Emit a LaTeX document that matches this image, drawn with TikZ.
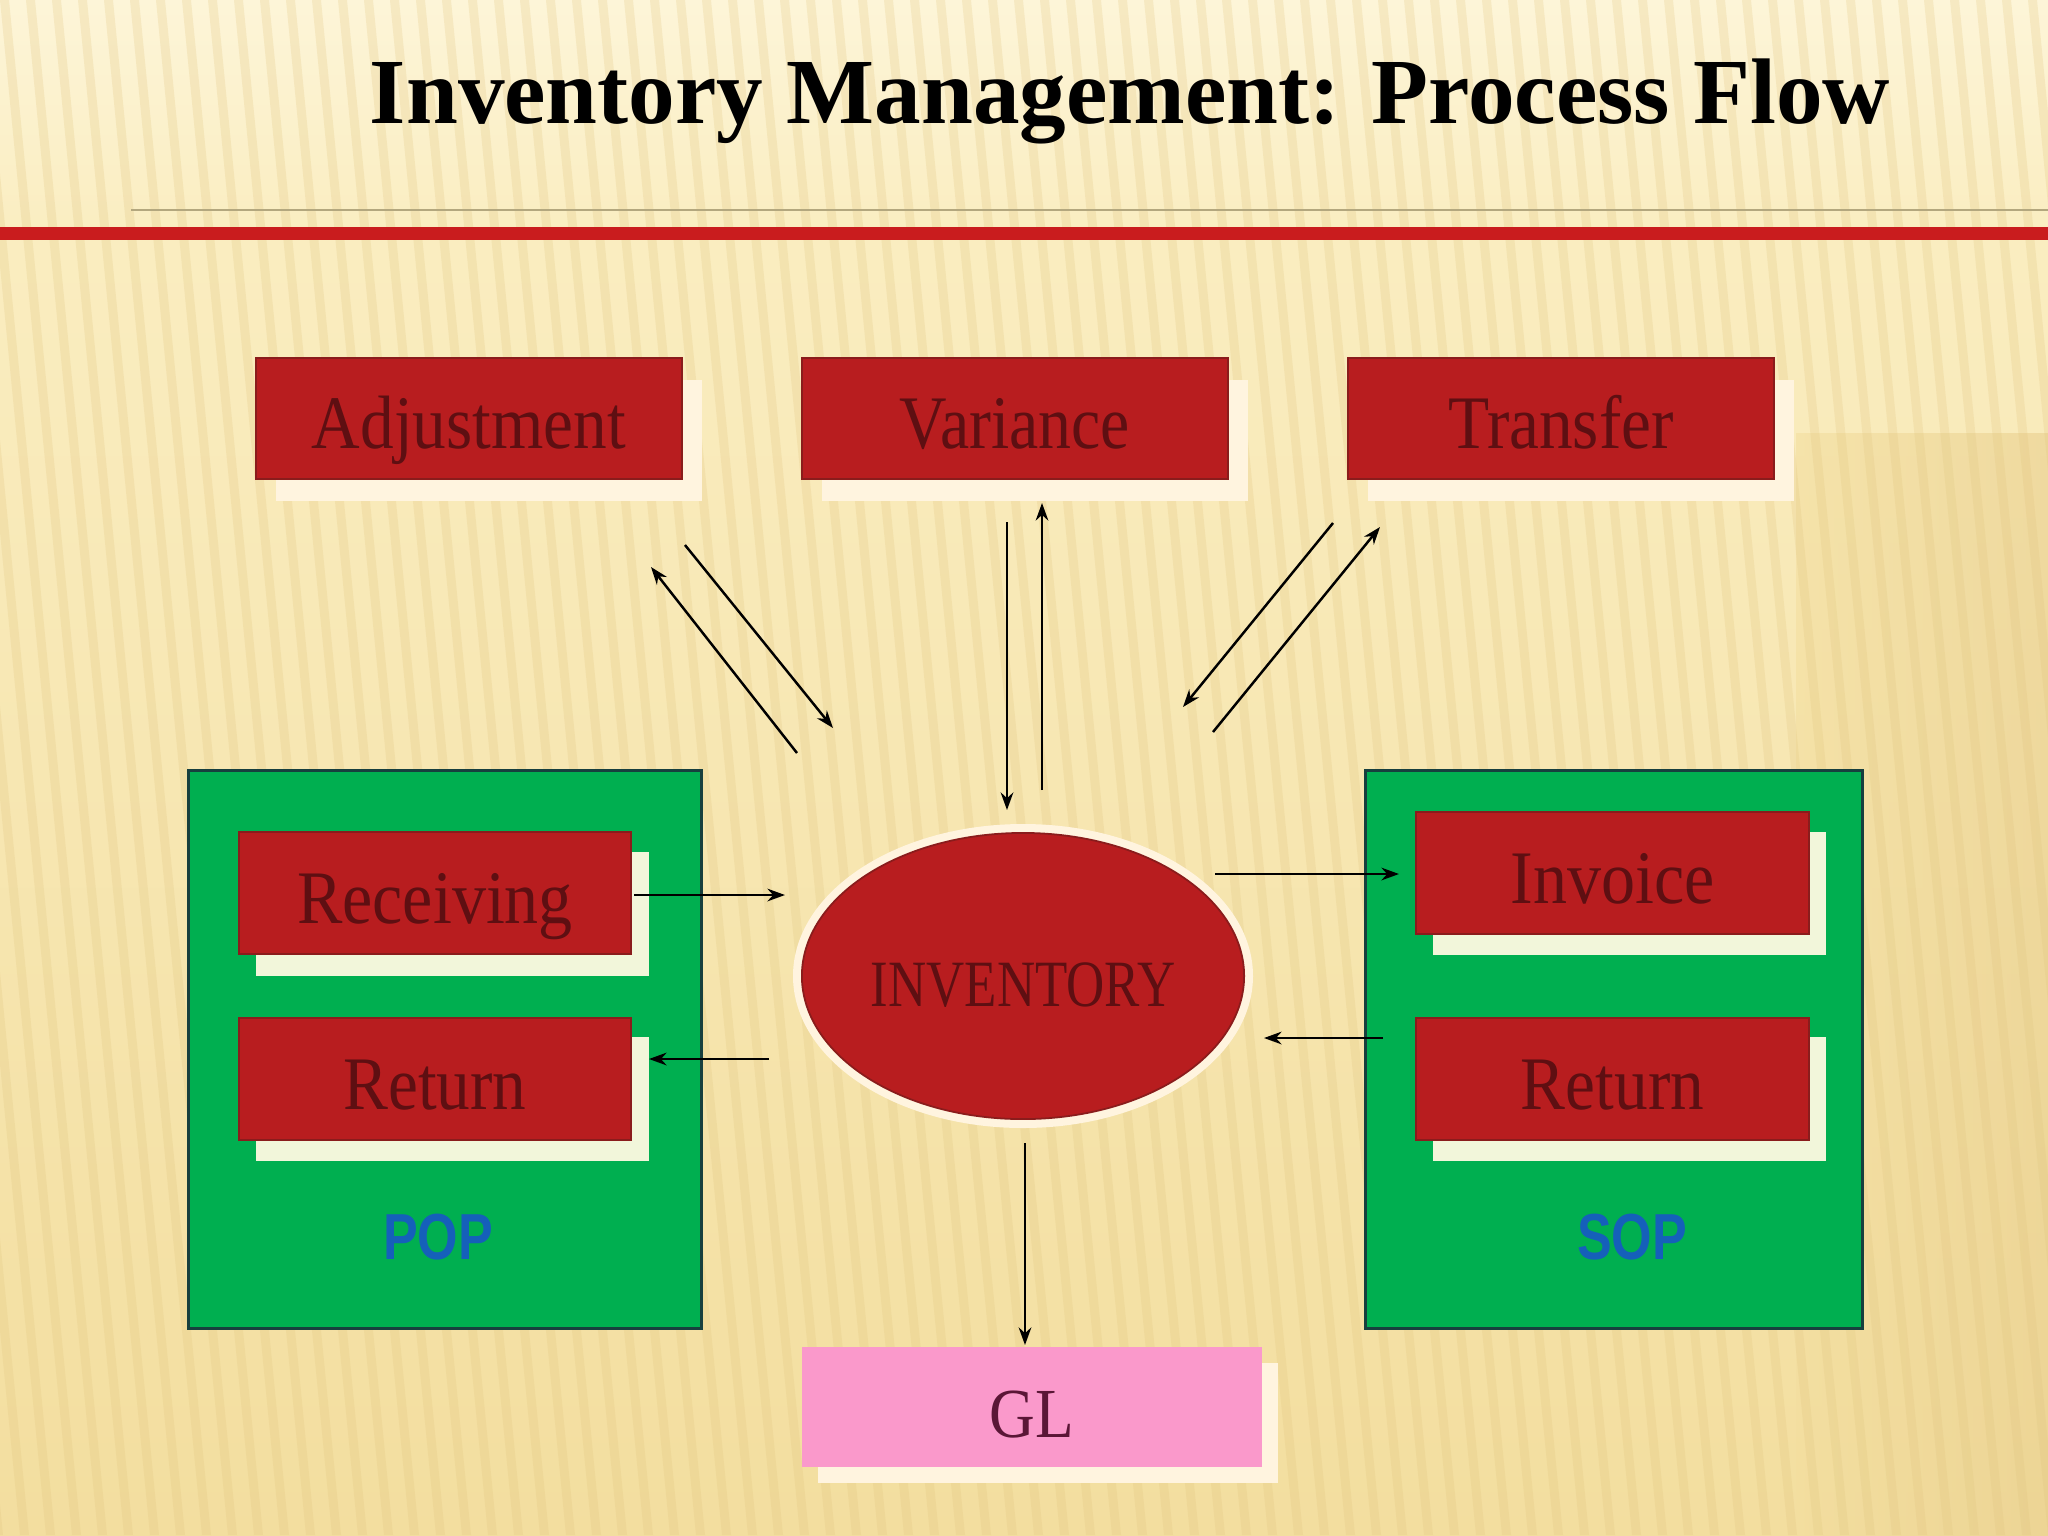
\documentclass[tikz,border=0pt]{standalone}
\usepackage{graphicx}
\usepackage{fontspec}
\setmainfont{Liberation Serif}
\newfontfamily\arialf{Liberation Sans}
\usetikzlibrary{arrows.meta,shapes.geometric,calc}
\definecolor{bgtop}{HTML}{FDF5D8}
\definecolor{bgmid}{HTML}{FAEDC0}
\definecolor{bgbot}{HTML}{F3DE9F}
\definecolor{bgdark}{HTML}{E9CF8E}
\definecolor{stripec}{HTML}{E0C47E}
\definecolor{boxred}{HTML}{B81D1F}
\definecolor{boxedge}{HTML}{8A1C1C}
\definecolor{txtred}{HTML}{5E0F12}
\definecolor{greenf}{HTML}{00AF50}
\definecolor{greenedge}{HTML}{173F3E}
\definecolor{bluet}{HTML}{1560BA}
\definecolor{pinkf}{HTML}{FA99CB}
\definecolor{gltxt}{HTML}{5A1636}
\definecolor{redline}{HTML}{C91C1E}
\definecolor{greyline}{HTML}{B3A77E}
\definecolor{topshad}{HTML}{FFF4DF}
\definecolor{inshad}{HTML}{F2F6DA}
\begin{document}
\begin{tikzpicture}[x=0.01cm,y=-0.01cm,
  redbox/.style={fill=boxred, draw=boxedge, line width=0.5pt, inner sep=0pt, outer sep=0pt,
    text=txtred, font=\fontsize{21.5pt}{21.5pt}\selectfont, text height=0.6cm, text depth=0pt},
  greenbox/.style={fill=greenf, draw=greenedge, line width=0.9pt, inner sep=0pt, outer sep=0pt},
  glbox/.style={fill=pinkf, inner sep=0pt, outer sep=0pt, text=gltxt,
    font=\fontsize{20pt}{20pt}\selectfont, text height=0.6cm, text depth=0pt},
  invnode/.style={ellipse, fill=boxred, draw=boxedge, line width=0.5pt, inner sep=0pt, outer sep=0pt,
    text=txtred, font=\fontsize{18.8pt}{18.8pt}\selectfont, text height=0.6cm, text depth=0pt},
  grouplabel/.style={text=bluet, font=\arialf\bfseries\fontsize{18.5pt}{18.5pt}\selectfont, inner sep=0pt, anchor=base},
  arr/.style={draw=black, line width=0.7pt, -{Stealth[length=5pt,width=3.6pt]}},
  topshadow/.style={fill=topshad},
  innershadow/.style={fill=inshad}
]
\useasboundingbox (0,0) rectangle (2048,1535);
% background
\fill[bgmid] (0,0) rectangle (2048,1535);
\shade[top color=bgtop, bottom color=bgmid] (0,0) rectangle (2048,240);
\shade[top color=bgmid, bottom color=bgbot] (0,240) rectangle (2048,1535);
\shade[left color=bgbot, right color=bgdark, opacity=0.6] (1796,433) rectangle (2048,1535);
\foreach \i in {-8,...,80} {
  \fill[stripec, opacity=0.24] (\i*26,0) -- ++(9,0) -- ++(150,1535) -- ++(-9,0) -- cycle;
}
% title and rules
\node[anchor=base, inner sep=0pt, font=\bfseries\fontsize{26.5pt}{26.5pt}\selectfont] (title) at (1130,123) {Inventory Management: Process Flow};
\draw[greyline, line width=0.6pt] (131,210) -- (2048,210);
\fill[redline] (0,227) rectangle (2048,240);
% top boxes
\fill[topshadow] (276,380) rectangle (702,501);
\fill[topshadow] (822,380) rectangle (1248,501);
\fill[topshadow] (1368,380) rectangle (1794,501);
\node[redbox, minimum width=4.26cm, minimum height=1.21cm] (adj) at (469,418.5) {\scalebox{0.89}[1]{Adjustment}};
\node[redbox, minimum width=4.26cm, minimum height=1.21cm] (var) at (1015,418.5) {\scalebox{0.87}[1]{Variance}};
\node[redbox, minimum width=4.26cm, minimum height=1.21cm] (trf) at (1561,418.5) {\scalebox{0.89}[1]{Transfer}};
% green groups
\node[greenbox, minimum width=5.12cm, minimum height=5.57cm] (pop) at (445,1049.5) {};
\node[greenbox, minimum width=4.96cm, minimum height=5.57cm] (sop) at (1614,1049.5) {};
\fill[innershadow] (256,852) rectangle (649,976);
\fill[innershadow] (256,1037) rectangle (649,1161);
\fill[innershadow] (1433,832) rectangle (1826,955);
\fill[innershadow] (1433,1037) rectangle (1826,1161);
\node[redbox, minimum width=3.92cm, minimum height=1.22cm] (rec) at (435,893) {\scalebox{0.9}[1]{Receiving}};
\node[redbox, minimum width=3.92cm, minimum height=1.22cm] (retp) at (435,1079) {\scalebox{0.89}[1]{Return}};
\node[redbox, minimum width=3.93cm, minimum height=1.22cm] (inv1) at (1612.5,873) {\scalebox{0.9}[1]{Invoice}};
\node[redbox, minimum width=3.93cm, minimum height=1.22cm] (rets) at (1612.5,1079) {\scalebox{0.89}[1]{Return}};
\node[grouplabel] (poplbl) at (438,1259) {\scalebox{0.8}[1]{POP}};
\node[grouplabel] (soplbl) at (1632,1259) {\scalebox{0.8}[1]{SOP}};
% inventory
\fill[topshad] (1023,976) ellipse [x radius=230, y radius=152];
\node[invnode, minimum width=4.42cm, minimum height=2.86cm] (inv) at (1023,976) {\scalebox{0.8}[1]{INVENTORY}};
% GL
\fill[topshad] (818,1363) rectangle (1278,1483);
\node[glbox, minimum width=4.60cm, minimum height=1.20cm] (gl) at (1032,1407) {\scalebox{0.9}[1]{GL}};
% arrow end points
\coordinate (a1s) at (685,545);   \coordinate (a1e) at (833,728);
\coordinate (a2s) at (797,753);   \coordinate (a2e) at (651,567);
\coordinate (v1s) at (1007,522);  \coordinate (v1e) at (1007,810);
\coordinate (v2s) at (1042,790);  \coordinate (v2e) at (1042,503);
\coordinate (t1s) at (1333,523);  \coordinate (t1e) at (1183,707);
\coordinate (t2s) at (1213,732);  \coordinate (t2e) at (1380,527);
\coordinate (r1s) at (634,895);   \coordinate (r1e) at (785,895);
\coordinate (r2s) at (769,1059);  \coordinate (r2e) at (649,1059);
\coordinate (i1s) at (1215,874);  \coordinate (i1e) at (1399,874);
\coordinate (i2s) at (1383,1038); \coordinate (i2e) at (1264,1038);
\coordinate (g1s) at (1025,1143); \coordinate (g1e) at (1025,1345);
% connectors
\draw[arr] (a1s) -- (a1e);
\draw[arr] (a2s) -- (a2e);
\draw[arr] (v1s) -- (v1e);
\draw[arr] (v2s) -- (v2e);
\draw[arr] (t1s) -- (t1e);
\draw[arr] (t2s) -- (t2e);
\draw[arr] (r1s) -- (r1e);
\draw[arr] (r2s) -- (r2e);
\draw[arr] (i1s) -- (i1e);
\draw[arr] (i2s) -- (i2e);
\draw[arr] (g1s) -- (g1e);
\end{tikzpicture}
\end{document}
